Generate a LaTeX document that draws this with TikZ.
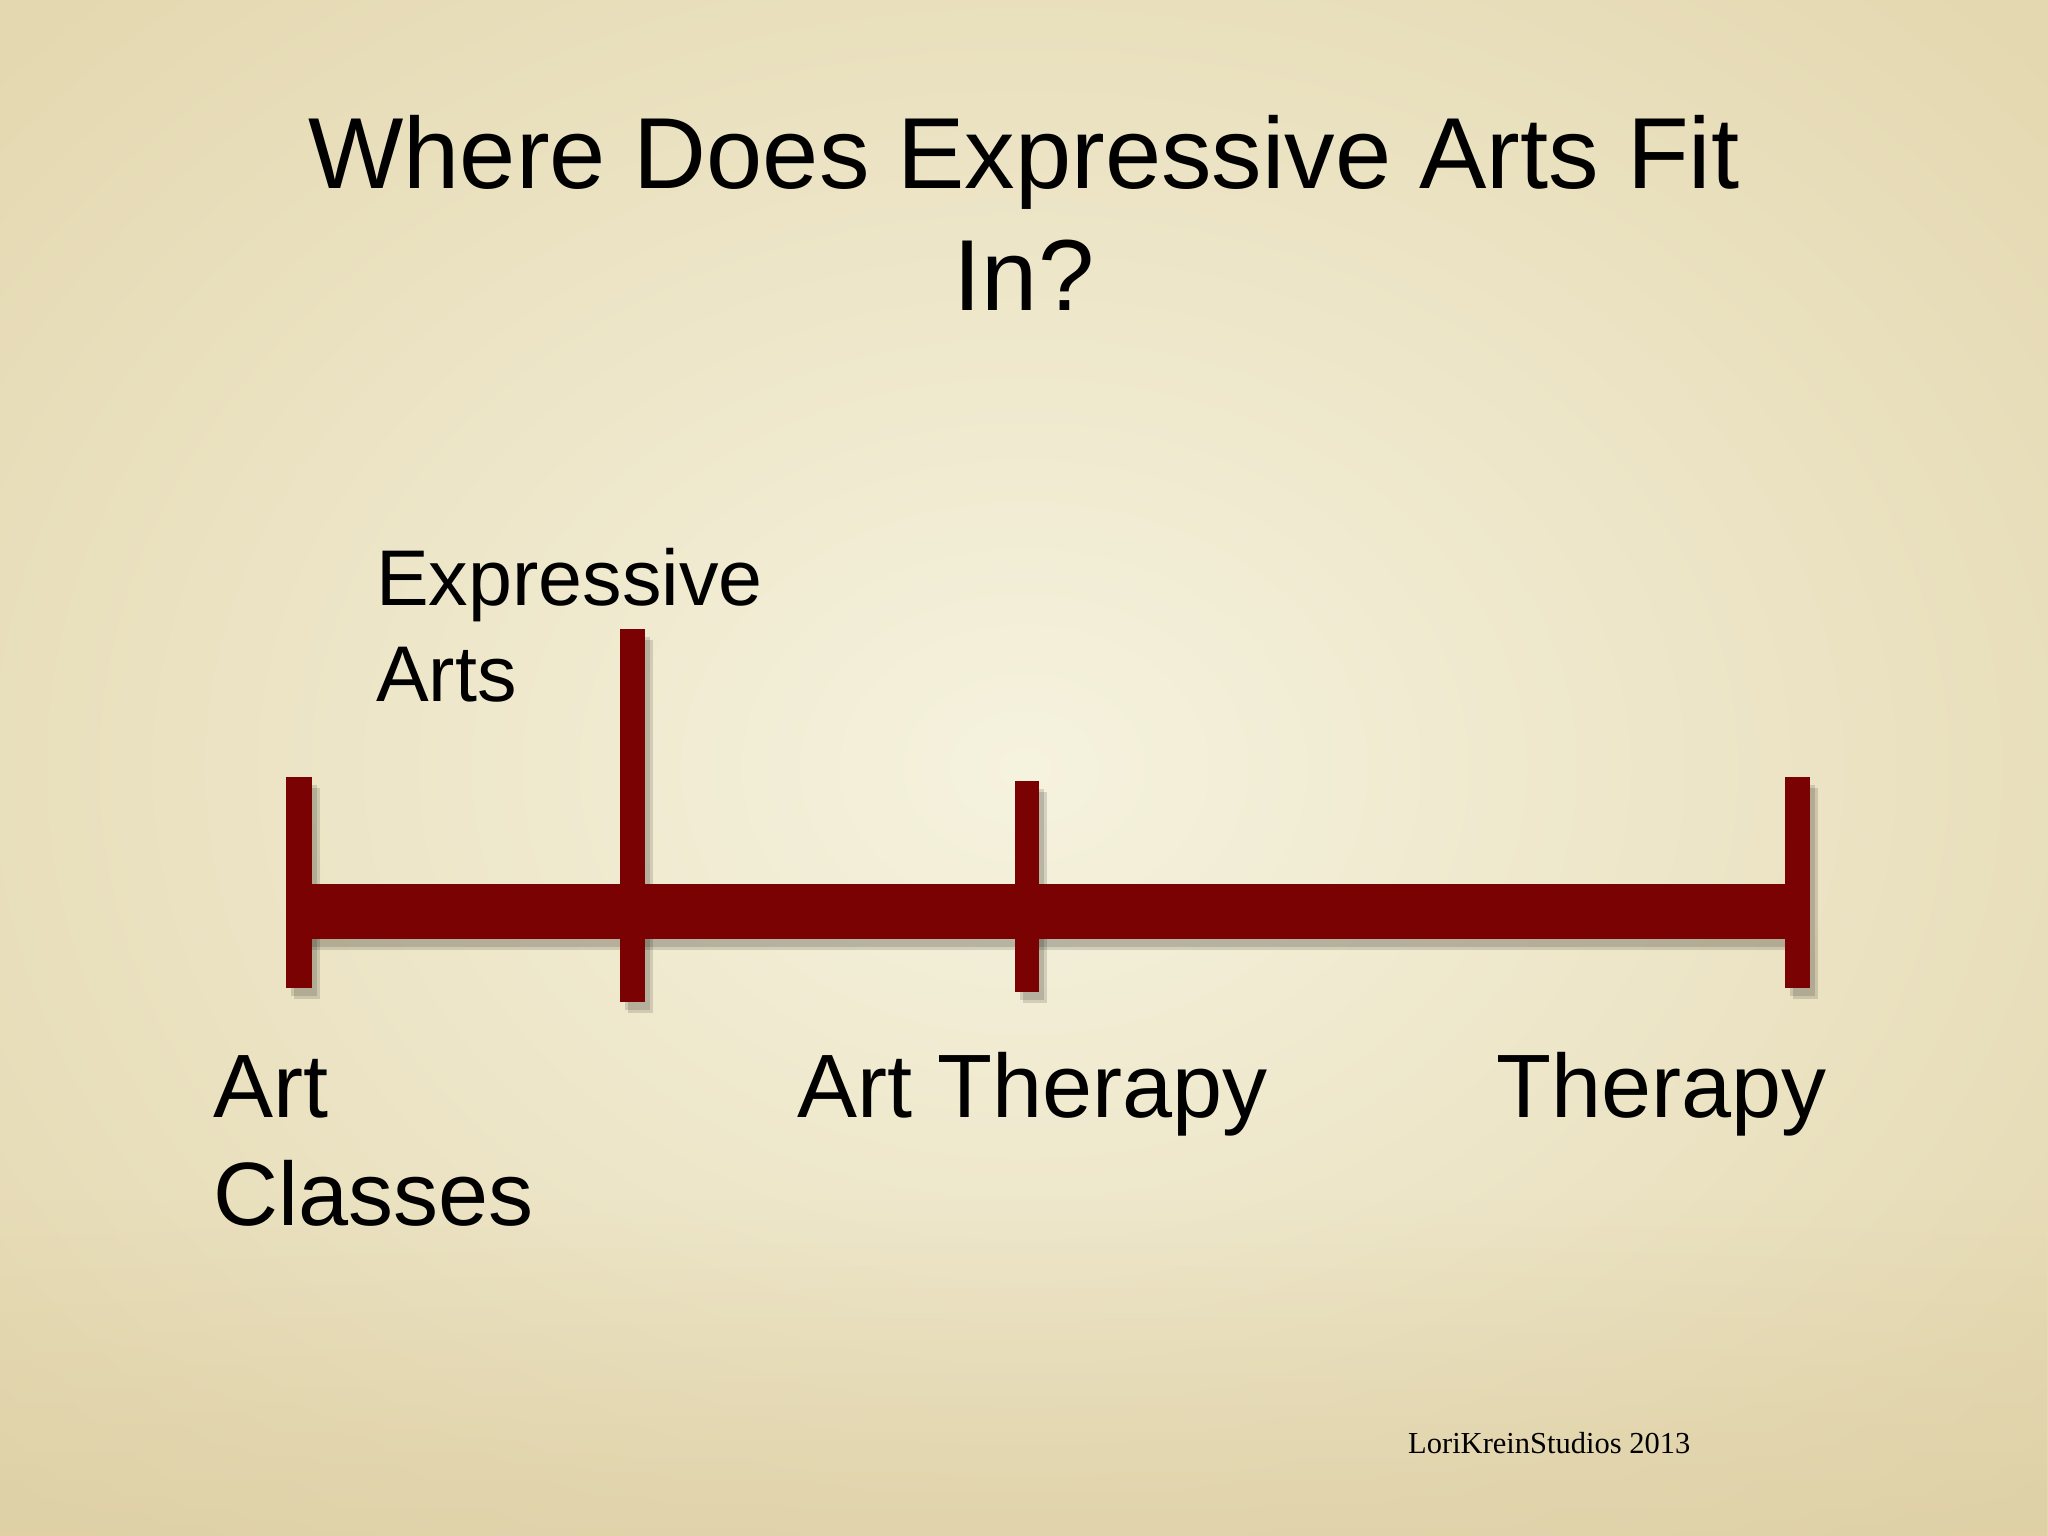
\documentclass[tikz,border=0pt]{standalone}
\usepackage{fontspec}
\usetikzlibrary{fadings}
\setmainfont{Liberation Sans}
\newfontfamily\footserif{Liberation Serif}
\definecolor{paperin}{RGB}{245,242,222}
\definecolor{paperout}{RGB}{228,216,176}
\definecolor{paperlow}{RGB}{220,204,160}
\definecolor{barred}{RGB}{122,2,2}
\begin{document}
\begin{tikzpicture}[x=1pt,y=-1pt,
  shadowbox/.style={fill=black,opacity=0.13},
  redbox/.style={fill=barred},
  lbl/.style={inner sep=0pt,anchor=base west,font=\fontsize{90}{100}\selectfont},
  small/.style={inner sep=0pt,anchor=base west,font=\fontsize{79}{90}\selectfont}]
\useasboundingbox (0,0) rectangle (2048,1536);
\shade[inner color=paperin,outer color=paperout] (-350,-300) rectangle (2398,1836);
\fill[paperlow,path fading=north,opacity=0.6] (0,1200) rectangle (2048,1536);
% title
\node[inner sep=0pt,anchor=base,font=\fontsize{101}{110}\selectfont] (t1) at (1024,189) {Where Does Expressive Arts Fit};
\node[inner sep=0pt,anchor=base,font=\fontsize{101}{110}\selectfont] (t2) at (1024,310) {In?};
% shadows (two soft layers)
\foreach \dx/\dy in {5/8,8/11}{
\begin{scope}[shift={(\dx,\dy)}]
\fill[shadowbox] (300,884) rectangle (1790,939);
\fill[shadowbox] (286,777) rectangle (312,988);
\fill[shadowbox] (620,629) rectangle (645,1002);
\fill[shadowbox] (1015,781) rectangle (1039,992);
\fill[shadowbox] (1785,777) rectangle (1810,988);
\end{scope}}
% bar and ticks
\fill[redbox] (300,884) rectangle (1790,939) coordinate (barend);
\fill[redbox] (286,777) rectangle (312,988) coordinate (tick1);
\fill[redbox] (620,629) rectangle (645,1002) coordinate (tick2);
\fill[redbox] (1015,781) rectangle (1039,992) coordinate (tick3);
\fill[redbox] (1785,777) rectangle (1810,988) coordinate (tick4);
% labels
\node[small] (ea1) at (376,605) {Expressive};
\node[small] (ea2) at (376,701) {Arts};
\node[lbl] (ac1) at (213,1117) {Art};
\node[lbl] (ac2) at (213,1225) {Classes};
\node[lbl] (at) at (797,1117) {Art Therapy};
\node[lbl] (th) at (1496,1117) {Therapy};
\node[inner sep=0pt,anchor=base west,font=\footserif\fontsize{30.5}{34}\selectfont] (foot) at (1408,1453) {LoriKreinStudios 2013};
\end{tikzpicture}
\end{document}
